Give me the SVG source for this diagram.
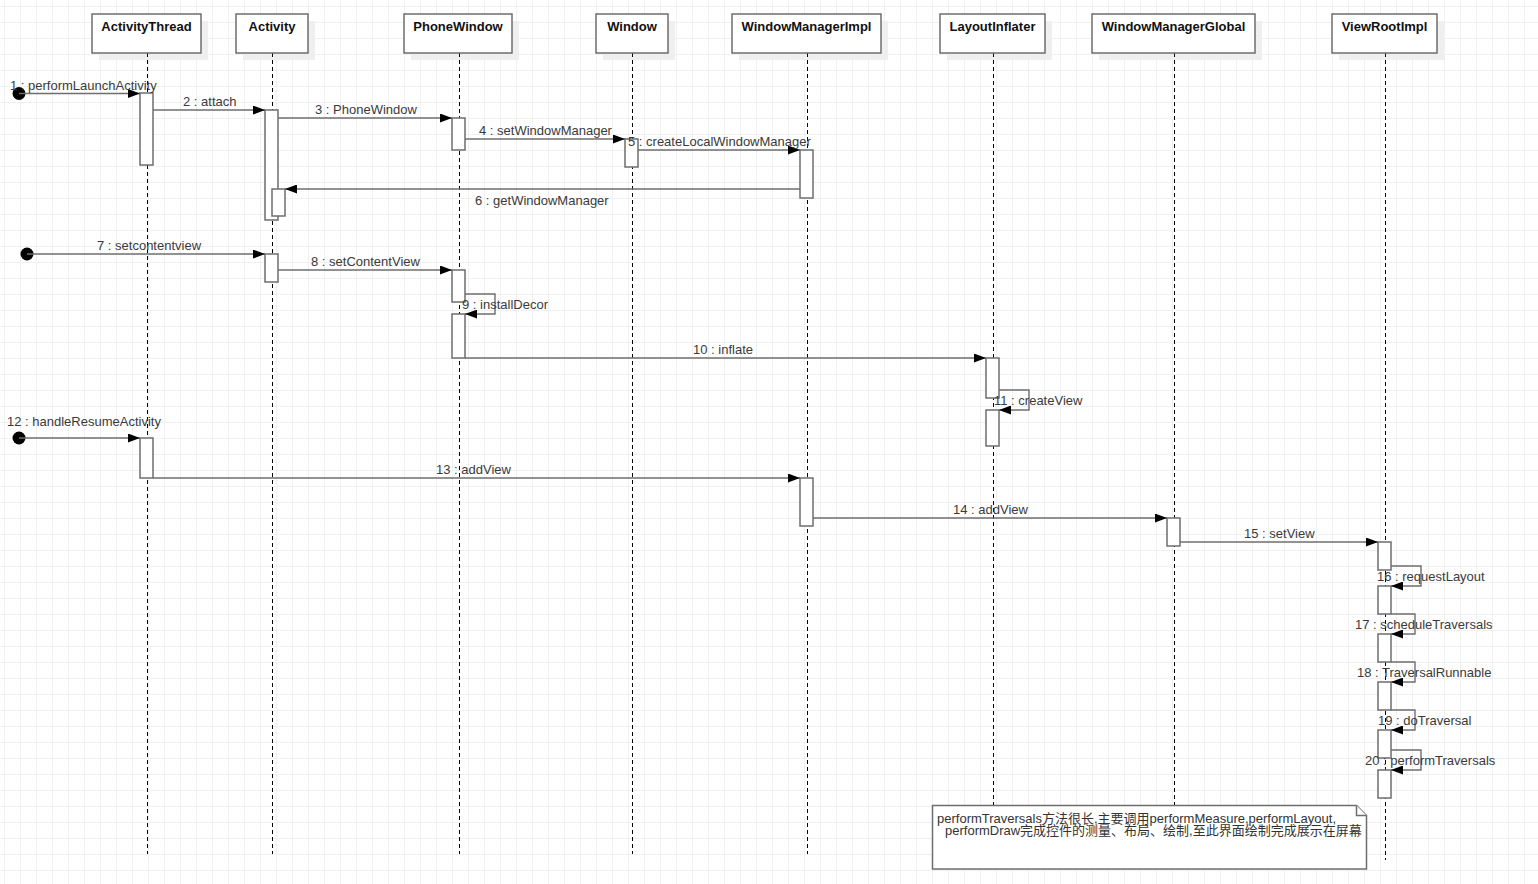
<svg xmlns="http://www.w3.org/2000/svg" width="1538" height="884" viewBox="0 0 1538 884">
<style>
.hdr{fill:#fff;stroke:#6e6e6e;stroke-width:1.5}
.shd{fill:#efefef}
.ht{font-family:"Liberation Sans",Arial,sans-serif;font-size:13px;font-weight:bold;fill:#111;text-anchor:middle}
.life{stroke:#000;stroke-width:1;stroke-dasharray:4,3;fill:none}
.act{fill:#fff;stroke:#6e6e6e;stroke-width:1.5}
.msg{stroke:#6e6e6e;stroke-width:1.4;fill:none}
.lbl{font-family:"Liberation Sans",Arial,sans-serif;font-size:13px;fill:#3a3a3a}
.note{fill:#fff;stroke:#6e6e6e;stroke-width:1.5}
.nt{font-family:"Liberation Sans","Noto Sans CJK SC",sans-serif;font-size:13px;fill:#333}
</style>
<defs>
<pattern id="grid" x="4" y="6" width="16" height="16" patternUnits="userSpaceOnUse">
<path d="M0.5,0 V16 M0,0.5 H16" stroke="#f0f0f0" stroke-width="1" fill="none"/>
</pattern>
<marker id="ah" markerWidth="12" markerHeight="9" refX="12" refY="4.5" orient="auto" markerUnits="userSpaceOnUse">
<path d="M0,0 L12,4.5 L0,9 z" fill="#000"/>
</marker>
</defs>
<rect width="1538" height="884" fill="#fff"/>
<rect width="1538" height="884" fill="url(#grid)"/>

<g id="ActivityThread">
<rect class="shd" x="99" y="21" width="109" height="39"/>
<line class="life" x1="147.5" y1="53" x2="147.5" y2="854"/>
<rect class="hdr" x="92" y="14" width="109" height="39"/>
<text class="ht" x="146.5" y="31">ActivityThread</text>
<rect class="act" x="140" y="93" width="13" height="72"/>
<rect class="act" x="140" y="438" width="13" height="40"/>
</g>
<g id="Activity">
<rect class="shd" x="243" y="21" width="72" height="39"/>
<line class="life" x1="272.5" y1="53" x2="272.5" y2="854"/>
<rect class="hdr" x="236" y="14" width="72" height="39"/>
<text class="ht" x="272" y="31">Activity</text>
<rect class="act" x="265" y="110" width="13" height="110"/>
<rect class="act" x="272" y="189" width="13" height="27"/>
<rect class="act" x="265" y="254" width="13" height="28"/>
</g>
<g id="PhoneWindow">
<rect class="shd" x="411" y="21" width="108" height="39"/>
<line class="life" x1="459.5" y1="53" x2="459.5" y2="854"/>
<rect class="hdr" x="404" y="14" width="108" height="39"/>
<text class="ht" x="458" y="31">PhoneWindow</text>
<rect class="act" x="452" y="118" width="13" height="32"/>
<rect class="act" x="452" y="270" width="13" height="32"/>
<rect class="act" x="452" y="314" width="13" height="44"/>
</g>
<g id="Window">
<rect class="shd" x="603" y="21" width="72" height="39"/>
<line class="life" x1="632.5" y1="53" x2="632.5" y2="854"/>
<rect class="hdr" x="596" y="14" width="72" height="39"/>
<text class="ht" x="632" y="31">Window</text>
<rect class="act" x="625" y="139" width="13" height="28"/>
</g>
<g id="WindowManagerImpl">
<rect class="shd" x="739" y="21" width="149" height="39"/>
<line class="life" x1="807.5" y1="53" x2="807.5" y2="854"/>
<rect class="hdr" x="732" y="14" width="149" height="39"/>
<text class="ht" x="806.5" y="31">WindowManagerImpl</text>
<rect class="act" x="800" y="150" width="13" height="48"/>
<rect class="act" x="800" y="478" width="13" height="48"/>
</g>
<g id="LayoutInflater">
<rect class="shd" x="947" y="21" width="105" height="39"/>
<line class="life" x1="993.5" y1="53" x2="993.5" y2="854"/>
<rect class="hdr" x="940" y="14" width="105" height="39"/>
<text class="ht" x="992.5" y="31">LayoutInflater</text>
<rect class="act" x="986" y="358" width="13" height="40"/>
<rect class="act" x="986" y="410" width="13" height="36"/>
</g>
<g id="WindowManagerGlobal">
<rect class="shd" x="1099" y="21" width="163" height="39"/>
<line class="life" x1="1174.5" y1="53" x2="1174.5" y2="854"/>
<rect class="hdr" x="1092" y="14" width="163" height="39"/>
<text class="ht" x="1173.5" y="31">WindowManagerGlobal</text>
<rect class="act" x="1167" y="518" width="13" height="28"/>
</g>
<g id="ViewRootImpl">
<rect class="shd" x="1339" y="21" width="105" height="39"/>
<line class="life" x1="1385.5" y1="53" x2="1385.5" y2="860"/>
<rect class="hdr" x="1332" y="14" width="105" height="39"/>
<text class="ht" x="1384.5" y="31">ViewRootImpl</text>
<rect class="act" x="1378" y="542" width="13" height="28"/>
<rect class="act" x="1378" y="586" width="13" height="28"/>
<rect class="act" x="1378" y="634" width="13" height="28"/>
<rect class="act" x="1378" y="682" width="13" height="28"/>
<rect class="act" x="1378" y="730" width="13" height="28"/>
<rect class="act" x="1378" y="770" width="13" height="28"/>
</g>

<g id="connectors">
<circle cx="19" cy="93.5" r="6.5" fill="#000"/>
<line class="msg" x1="19" y1="93.5" x2="140" y2="93.5" marker-end="url(#ah)"/>
<line class="msg" x1="153" y1="110" x2="265" y2="110" marker-end="url(#ah)"/>
<line class="msg" x1="278" y1="118" x2="452" y2="118" marker-end="url(#ah)"/>
<line class="msg" x1="465" y1="139" x2="625" y2="139" marker-end="url(#ah)"/>
<line class="msg" x1="638" y1="150" x2="800" y2="150" marker-end="url(#ah)"/>
<line class="msg" x1="800" y1="189" x2="285" y2="189" marker-end="url(#ah)"/>
<circle cx="27" cy="254" r="6.5" fill="#000"/>
<line class="msg" x1="27" y1="254" x2="265" y2="254" marker-end="url(#ah)"/>
<line class="msg" x1="278" y1="270" x2="452" y2="270" marker-end="url(#ah)"/>
<polyline class="msg" points="465,294 495,294 495,314 465,314" marker-end="url(#ah)"/>
<line class="msg" x1="465" y1="358" x2="986" y2="358" marker-end="url(#ah)"/>
<polyline class="msg" points="999,390 1029,390 1029,410 999,410" marker-end="url(#ah)"/>
<circle cx="19" cy="438" r="6.5" fill="#000"/>
<line class="msg" x1="19" y1="438" x2="140" y2="438" marker-end="url(#ah)"/>
<line class="msg" x1="153" y1="478" x2="800" y2="478" marker-end="url(#ah)"/>
<line class="msg" x1="813" y1="518" x2="1167" y2="518" marker-end="url(#ah)"/>
<line class="msg" x1="1180" y1="542" x2="1378" y2="542" marker-end="url(#ah)"/>
<polyline class="msg" points="1391,566 1421,566 1421,586 1391,586" marker-end="url(#ah)"/>
<polyline class="msg" points="1391,614 1415,614 1415,634 1391,634" marker-end="url(#ah)"/>
<polyline class="msg" points="1391,662 1415,662 1415,682 1391,682" marker-end="url(#ah)"/>
<polyline class="msg" points="1391,710 1415,710 1415,730 1391,730" marker-end="url(#ah)"/>
<polyline class="msg" points="1391,750 1421,750 1421,770 1391,770" marker-end="url(#ah)"/>

<text class="lbl" x="10" y="90">1 : performLaunchActivity</text>
<text class="lbl" x="183" y="106">2 : attach</text>
<text class="lbl" x="315" y="114">3 : PhoneWindow</text>
<text class="lbl" x="479" y="135">4 : setWindowManager</text>
<text class="lbl" x="628" y="146">5 : createLocalWindowManager</text>
<text class="lbl" x="475" y="205">6 : getWindowManager</text>
<text class="lbl" x="97" y="250">7 : setcontentview</text>
<text class="lbl" x="311" y="266">8 : setContentView</text>
<text class="lbl" x="462" y="309">9 : installDecor</text>
<text class="lbl" x="693" y="354">10 : inflate</text>
<text class="lbl" x="994" y="405">11 : createView</text>
<text class="lbl" x="7" y="426">12 : handleResumeActivity</text>
<text class="lbl" x="436" y="474">13 : addView</text>
<text class="lbl" x="953" y="514">14 : addView</text>
<text class="lbl" x="1244" y="538">15 : setView</text>
<text class="lbl" x="1377" y="581">16 : requestLayout</text>
<text class="lbl" x="1355" y="629">17 : scheduleTraversals</text>
<text class="lbl" x="1357" y="677">18 : TraversalRunnable</text>
<text class="lbl" x="1378" y="725">19 : doTraversal</text>
<text class="lbl" x="1365" y="765">20 : performTraversals</text>
</g>

<g id="note">
<path class="note" d="M932.5,805.5 H1356.5 L1366.5,815.5 V869 H932.5 Z"/>
<path class="note" d="M1356.5,805.5 V815.5 H1366.5" fill="none"/>
<text class="nt" x="937" y="823">performTraversals方法很长,主要调用performMeasure,performLayout,</text>
<text class="nt" x="945" y="835">performDraw完成控件的测量、布局、绘制,至此界面绘制完成展示在屏幕</text>
</g>
</svg>
